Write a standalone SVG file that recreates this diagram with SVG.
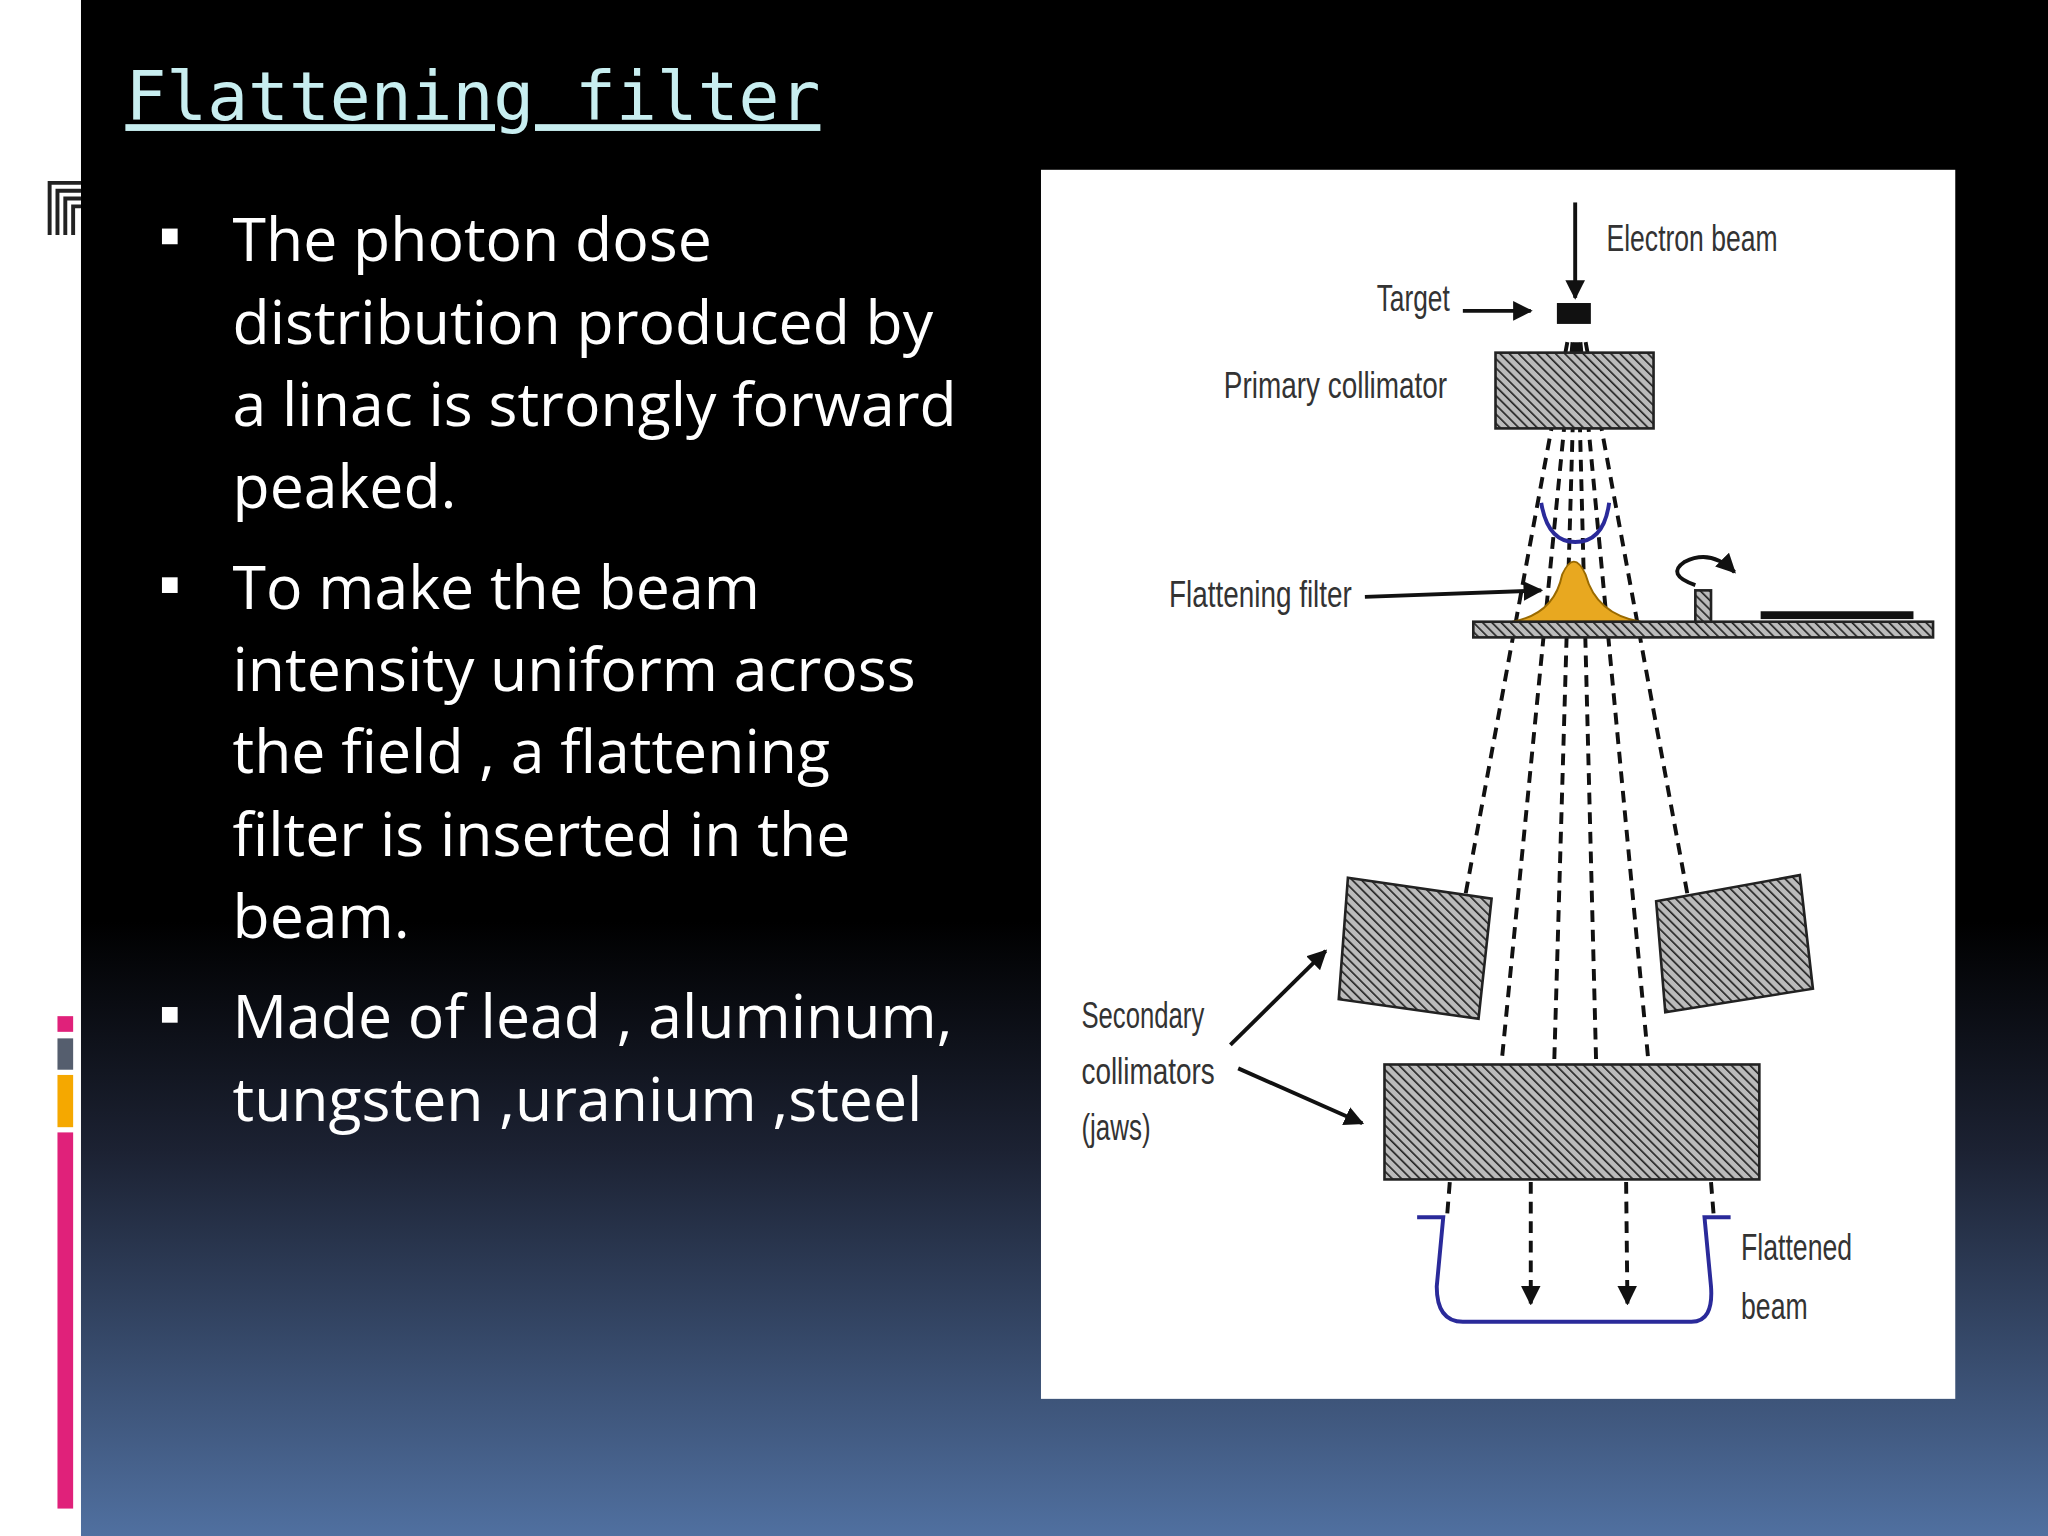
<svg xmlns="http://www.w3.org/2000/svg" width="2048" height="1536" viewBox="0 0 2048 1536">
<defs>
<linearGradient id="bg" x1="0" y1="0" x2="0" y2="1">
<stop offset="0" stop-color="#000"/><stop offset="0.6" stop-color="#000"/><stop offset="0.75" stop-color="#1c2233"/><stop offset="1" stop-color="#5070a0"/>
</linearGradient>
<pattern id="hatch" width="5" height="5" patternUnits="userSpaceOnUse" patternTransform="rotate(-45)">
<rect width="5" height="5" fill="#bbb"/><line x1="0" y1="0" x2="0" y2="5" stroke="#222" stroke-width="2.5"/>
</pattern>
<marker id="ah" viewBox="0 0 10 10" refX="9" refY="5" markerWidth="5" markerHeight="5" orient="auto"><path d="M0,0L10,5L0,10z" fill="#111"/></marker>
<style>
.t{font-family:"Open Sans","DejaVu Sans",sans-serif;font-size:46.5px;fill:#fff}
.l{font-family:"Liberation Sans",sans-serif;font-size:28px;fill:#333}
.d{stroke:#111;stroke-width:3;stroke-dasharray:9,6;fill:none}
.a{stroke:#111;stroke-width:3;fill:none;marker-end:url(#ah)}
.h{fill:url(#hatch);stroke:#222;stroke-width:2}
</style>
</defs>
<g transform="scale(1.30612)">
<rect width="1568" height="1176" fill="url(#bg)"/>
<rect width="62" height="1176" fill="#fff"/>
<g id="deco" fill="none" stroke="#222" stroke-width="3">
<path d="M38,180V140H62M44,180V146H62M50,180V152H62M56,180V158H62"/>
<rect x="44" y="778" width="12" height="12" fill="#e0217a" stroke="none"/>
<rect x="44" y="795" width="12" height="24" fill="#555e6e" stroke="none"/>
<rect x="44" y="823" width="12" height="40" fill="#f5a800" stroke="none"/>
<rect x="44" y="867" width="12" height="288" fill="#e0217a" stroke="none"/>
</g>
<g id="title"><text x="96" y="92" font-family="'DejaVu Sans Mono',monospace" font-size="52" fill="#c8eef0" text-decoration="underline">Flattening filter</text></g>
<g id="bullets" fill="#fff">
<rect x="124" y="175" width="12" height="12"/><rect x="124" y="442" width="12" height="12"/><rect x="124" y="771" width="12" height="12"/>
<text class="t" x="178" y="200">The photon dose</text>
<text class="t" x="178" y="263">distribution produced by</text>
<text class="t" x="178" y="326">a linac is strongly forward</text>
<text class="t" x="178" y="389">peaked.</text>
<text class="t" x="178" y="466">To make the beam</text>
<text class="t" x="178" y="529">intensity uniform across</text>
<text class="t" x="178" y="592">the field , a flattening</text>
<text class="t" x="178" y="655">filter is inserted in the</text>
<text class="t" x="178" y="718">beam.</text>
<text class="t" x="178" y="795">Made of lead , aluminum,</text>
<text class="t" x="178" y="858">tungsten ,uranium ,steel</text>
</g>
<rect x="797" y="130" width="700" height="941" fill="#fff"/>
<g id="connectors">
<path class="d" d="M1200,262L1122,685M1204,262L1150,810M1206,262L1190,812M1208,262L1222,812M1210,262L1262,812M1214,262L1292,685"/>
<path class="a" d="M1206,155L1206,228"/>
<path class="a" d="M1120,238L1172,238"/>
<path class="a" d="M1045,457L1180,452"/>
<path class="a" d="M942,800L1015,728"/>
<path class="a" d="M948,818L1043,860"/>
<path class="d" d="M1110,905L1108,930M1310,905L1312,930"/>
<path class="a" d="M1172,905L1172,998" stroke-dasharray="9,6"/>
<path class="a" d="M1245,905L1246,998" stroke-dasharray="9,6"/>
<path d="M1085,932L1105,932L1100,985Q1100,1012 1120,1012L1295,1012Q1312,1012 1310,985L1305,932L1325,932" fill="none" stroke="#2a2a9a" stroke-width="3"/>
<path d="M1180,385Q1185,415 1206,415Q1228,415 1232,385" fill="none" stroke="#2a2a9a" stroke-width="3"/>
</g>
<g id="target"><rect x="1192" y="232" width="26" height="16" fill="#111"/><text class="l" x="1054" y="238" textLength="56" lengthAdjust="spacingAndGlyphs">Target</text></g>
<g id="electron"><text class="l" x="1230" y="192" textLength="131" lengthAdjust="spacingAndGlyphs">Electron beam</text></g>
<g id="primary"><rect class="h" x="1145" y="270" width="121" height="58"/><text class="l" x="937" y="305" textLength="171" lengthAdjust="spacingAndGlyphs">Primary collimator</text></g>
<g id="filter">
<path d="M1158,476Q1190,470 1196,440Q1205,420 1214,440Q1222,470 1256,476z" fill="#e8a820" stroke="#9a6a00" stroke-width="1.5"/>
<rect class="h" x="1128" y="476" width="352" height="12"/>
<rect class="h" x="1298" y="452" width="12" height="24"/>
<path d="M1298,448Q1275,440 1290,430Q1310,420 1328,438" fill="none" stroke="#111" stroke-width="3" marker-end="url(#ah)"/>
<rect x="1348" y="468" width="117" height="6" fill="#111"/>
<text class="l" x="895" y="465" textLength="140" lengthAdjust="spacingAndGlyphs">Flattening filter</text>
</g>
<g id="secondary">
<path class="h" d="M1032,672L1142,688L1132,780L1025,765z"/>
<path class="h" d="M1268,690L1378,670L1388,757L1275,775z"/>
<rect class="h" x="1060" y="815" width="287" height="88"/>
<text class="l" x="828" y="787" textLength="94" lengthAdjust="spacingAndGlyphs">Secondary</text><text class="l" x="828" y="830" textLength="102" lengthAdjust="spacingAndGlyphs">collimators</text><text class="l" x="828" y="873" textLength="53" lengthAdjust="spacingAndGlyphs">(jaws)</text>
</g>
<g id="flattened"><text class="l" x="1333" y="965" textLength="85" lengthAdjust="spacingAndGlyphs">Flattened</text><text class="l" x="1333" y="1010" textLength="51" lengthAdjust="spacingAndGlyphs">beam</text></g>
</g>
</svg>
